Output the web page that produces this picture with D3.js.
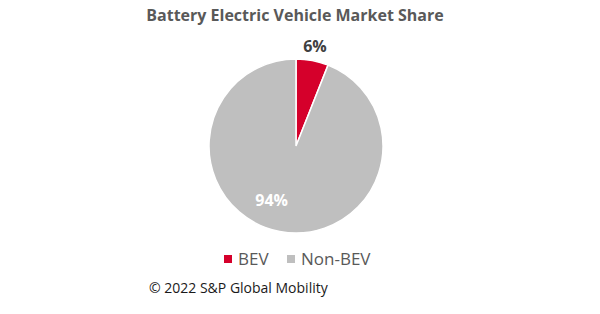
<!DOCTYPE html>
<html>
<head>
<meta charset="utf-8">
<script src="https://cdn.jsdelivr.net/npm/d3@7"></script>
<style>
  body { margin: 0; background: #fff; }
  text { font-family: "Open Sans", sans-serif; }
</style>
</head>
<body>
<div id="chart"></div>
<script>
// Data
const categories = ["BEV", "Non-BEV"];
const shares = [6, 94];
const colors = ["#d5002b", "#bfbfbf"];

const width = 600, height = 314;
const cx = 296, cy = 146, radius = 87;

const svg = d3.select("#chart")
    .append("svg")
    .attr("width", width)
    .attr("height", height);

// Title
svg.append("text")
    .attr("x", 295)
    .attr("y", 21)
    .attr("text-anchor", "middle")
    .attr("font-size", "16px")
    .attr("font-weight", "bold")
    .style("fill", "#595959")
    .text("Battery Electric Vehicle Market Share");

const data = categories.map((c, i) => ({ name: c, value: shares[i], color: colors[i] }));

const pie = d3.pie().sort(null).value(d => d.value);
const arc = d3.arc().innerRadius(0).outerRadius(radius);
const arcs = pie(data);

const g = svg.append("g").attr("transform", `translate(${cx}, ${cy})`);

g.selectAll("path")
    .data(arcs)
    .enter().append("path")
    .attr("d", arc)
    .attr("fill", d => d.data.color)
    .attr("stroke", "#fff")
    .attr("stroke-width", 1.5);

// small slice label goes outside, big one inside (a bit past the middle of the slice, like Excel)
function labelPos(d, i) {
    if (i === 0) {
        const a = (d.startAngle + d.endAngle) / 2, r = radius + 14;
        return [r * Math.sin(a), -r * Math.cos(a)];
    }
    const a = d.startAngle + (d.endAngle - d.startAngle) * 0.54, r = radius * 0.68;
    return [r * Math.sin(a), -r * Math.cos(a)];
}

g.selectAll(".lbl")
    .data(arcs)
    .enter().append("text")
    .attr("class", "lbl")
    .attr("transform", (d, i) => {
        const p = labelPos(d, i);
        return `translate(${p[0]}, ${p[1]})`;
    })
    .attr("dy", "0.35em")
    .attr("text-anchor", "middle")
    .attr("font-size", "16px")
    .attr("font-weight", "bold")
    .style("fill", (d, i) => i === 0 ? "#404040" : "#ffffff")
    .text(d => d.data.value + "%");

// Legend
const legendX = [224, 287];
const legend = svg.append("g").attr("class", "legend");

legend.selectAll("rect")
    .data(data)
    .enter().append("rect")
    .attr("x", (d, i) => legendX[i])
    .attr("y", 255)
    .attr("width", 8)
    .attr("height", 8)
    .style("fill", d => d.color);

legend.selectAll("text")
    .data(data)
    .enter().append("text")
    .attr("x", (d, i) => legendX[i] + 14)
    .attr("y", 265)
    .attr("font-size", "17px")
    .style("fill", "#595959")
    .text(d => d.name);

// Source line
svg.append("text")
    .attr("x", 149)
    .attr("y", 293)
    .attr("font-size", "14px")
    .style("fill", "#1a1a1a")
    .text("© 2022 S&P Global Mobility");
</script>
</body>
</html>
